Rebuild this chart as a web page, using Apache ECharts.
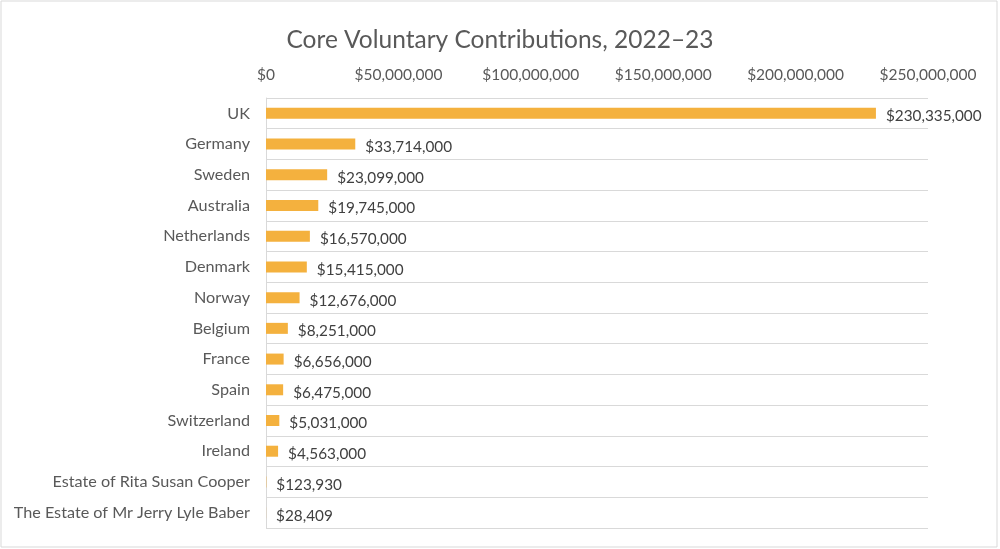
<!DOCTYPE html>
<html>
<head>
<meta charset="utf-8">
<script src="https://cdn.jsdelivr.net/npm/echarts@6/dist/echarts.min.js"></script>
<style>
html,body{margin:0;padding:0;background:#fff;}
#chart{width:1000px;height:549px;}
</style>
</head>
<body>
<div id="chart"></div>
<script>
const categories = ["UK","Germany","Sweden","Australia","Netherlands","Denmark","Norway","Belgium","France","Spain","Switzerland","Ireland","Estate of Rita Susan Cooper","The Estate of Mr Jerry Lyle Baber"];
const values = [230335000,33714000,23099000,19745000,16570000,15415000,12676000,8251000,6656000,6475000,5031000,4563000,123930,28409];
const xTicks = [0,50000000,100000000,150000000,200000000,250000000];

const fmt = v => '$' + Math.round(v).toLocaleString('en-US');
const FONT = 'Lato';

const chart = echarts.init(document.getElementById('chart'));
chart.setOption({
  backgroundColor:'#fff',
  animation:false,
  title:{
    text:'Core Voluntary Contributions, 2022–23',
    left:'center', top:23,
    textStyle:{fontFamily:FONT,fontSize:24.5,fontWeight:'normal',color:'#595959'}
  },
  graphic:[{type:'rect',shape:{x:1,y:1,width:996,height:546},style:{fill:'none',stroke:'#d9d9d9',lineWidth:1}}],
  grid:{left:266,right:72,top:98,bottom:21,containLabel:false},
  xAxis:{
    type:'value', position:'top', min:xTicks[0], max:xTicks[xTicks.length-1], interval:50000000,
    axisLine:{show:false}, axisTick:{show:false}, splitLine:{show:false},
    axisLabel:{formatter:fmt,fontFamily:FONT,fontSize:15.5,color:'#595959',margin:15}
  },
  yAxis:{
    type:'category', data:categories, inverse:true,
    axisLine:{show:true,lineStyle:{color:'#d9d9d9'}},
    axisTick:{show:false},
    splitLine:{show:true,lineStyle:{color:'#d9d9d9'}},
    axisLabel:{fontFamily:FONT,fontSize:16.2,color:'#595959',margin:16}
  },
  series:[{
    type:'bar', data:values, barWidth:11,
    itemStyle:{color:'#F4B13E'},
    label:{show:true,position:'right',distance:10,offset:[0,3],formatter:p=>fmt(p.value),fontFamily:FONT,fontSize:15.3,color:'#404040'}
  }]
});
</script>
</body>
</html>
